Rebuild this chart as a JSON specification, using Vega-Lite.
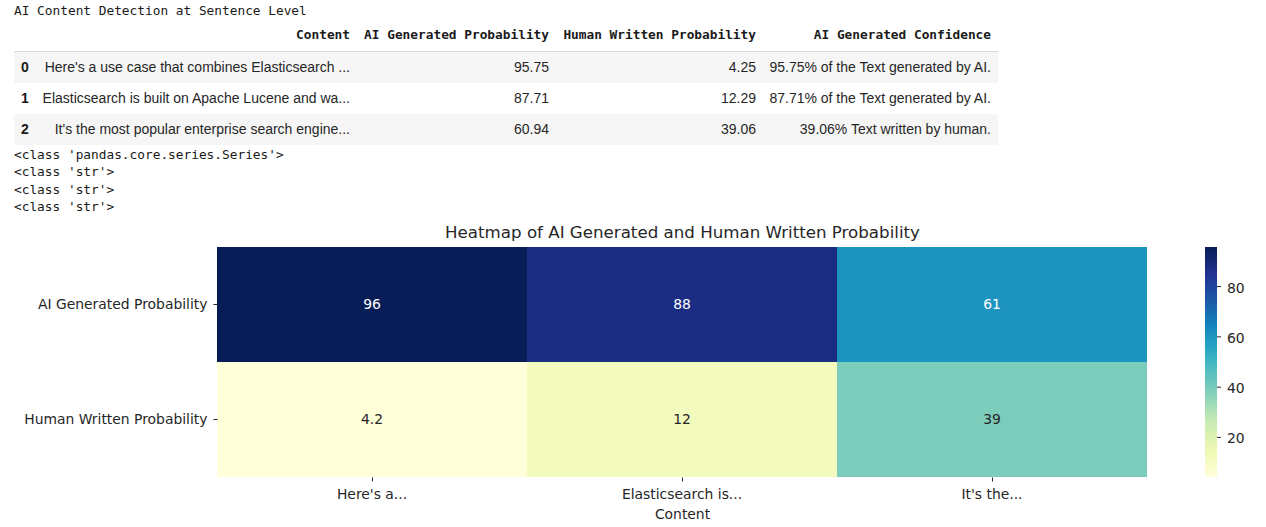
{
  "$schema": "https://vega.github.io/schema/vega-lite/v6.json",
  "width": 1266,
  "height": 527,
  "padding": 0,
  "autosize": "none",
  "background": "white",
  "title": {
    "text": "Heatmap of AI Generated and Human Written Probability",
    "anchor": "middle",
    "dx": 49.5,
    "offset": -242,
    "font": "DejaVu Sans",
    "fontSize": 16.67,
    "fontWeight": "normal",
    "color": "#262626"
  },
  "config": {"view": {"stroke": null}},
  "datasets": {
    "stripes": [
      {"row": "0", "from": 0, "to": 1},
      {"row": "2", "from": 0, "to": 1}
    ],
    "headerRule": [{"from": 0, "to": 1, "row": "header"}],
    "notes": [
      {"line": 0, "text": "AI Content Detection at Sentence Level"},
      {"line": 5, "text": "<class 'pandas.core.series.Series'>"},
      {"line": 6, "text": "<class 'str'>"},
      {"line": 7, "text": "<class 'str'>"},
      {"line": 8, "text": "<class 'str'>"}
    ],
    "header": [
      {"line": 1, "col": 1, "cell": "Content"},
      {"line": 1, "col": 2, "cell": "AI Generated Probability"},
      {"line": 1, "col": 3, "cell": "Human Written Probability"},
      {"line": 1, "col": 4, "cell": "AI Generated Confidence"}
    ],
    "index": [
      {"line": 2, "col": 0, "cell": "0"},
      {"line": 3, "col": 0, "cell": "1"},
      {"line": 4, "col": 0, "cell": "2"}
    ],
    "body": [
      {"line": 2, "col": 1, "cell": "Here's a use case that combines Elasticsearch ..."},
      {"line": 2, "col": 2, "cell": "95.75"},
      {"line": 2, "col": 3, "cell": "4.25"},
      {"line": 2, "col": 4, "cell": "95.75% of the Text generated by AI."},
      {"line": 3, "col": 1, "cell": "Elasticsearch is built on Apache Lucene and wa..."},
      {"line": 3, "col": 2, "cell": "87.71"},
      {"line": 3, "col": 3, "cell": "12.29"},
      {"line": 3, "col": 4, "cell": "87.71% of the Text generated by AI."},
      {"line": 4, "col": 1, "cell": "It's the most popular enterprise search engine..."},
      {"line": 4, "col": 2, "cell": "60.94"},
      {"line": 4, "col": 3, "cell": "39.06"},
      {"line": 4, "col": 4, "cell": "39.06% Text written by human."}
    ],
    "heat": [
      {"Content": "Here's a...", "metric": "AI Generated Probability", "value": 95.75, "label": "96"},
      {"Content": "Elasticsearch is...", "metric": "AI Generated Probability", "value": 87.71, "label": "88"},
      {"Content": "It's the...", "metric": "AI Generated Probability", "value": 60.94, "label": "61"},
      {"Content": "Here's a...", "metric": "Human Written Probability", "value": 4.25, "label": "4.2"},
      {"Content": "Elasticsearch is...", "metric": "Human Written Probability", "value": 12.29, "label": "12"},
      {"Content": "It's the...", "metric": "Human Written Probability", "value": 39.06, "label": "39"}
    ],
    "barTicks": [{"tick": 20}, {"tick": 40}, {"tick": 60}, {"tick": 80}]
  },
  "layer": [
    {
      "data": {"name": "stripes"},
      "mark": {"type": "rect", "color": "#f6f6f6"},
      "encoding": {
        "x": {"field": "from", "type": "quantitative", "axis": null, "scale": {"domain": [0, 1], "range": [14, 998]}},
        "x2": {"field": "to"},
        "y": {"field": "row", "type": "nominal", "axis": null, "scale": {"domain": ["0", "1", "2"], "range": [52, 145], "paddingInner": 0, "paddingOuter": 0}}
      }
    },
    {
      "data": {"name": "headerRule"},
      "mark": {"type": "rule", "color": "#d9d9d9", "strokeWidth": 1},
      "encoding": {
        "x": {"field": "from", "type": "quantitative", "axis": null, "scale": {"domain": [0, 1], "range": [14, 998]}},
        "x2": {"field": "to"},
        "y": {"field": "row", "type": "nominal", "axis": null, "scale": {"type": "point", "domain": ["header"], "range": [51.5, 51.5]}}
      }
    },
    {
      "data": {"name": "notes"},
      "mark": {"type": "text", "align": "left", "baseline": "middle", "font": "DejaVu Sans Mono", "fontSize": 12.8, "color": "#1a1a1a"},
      "encoding": {
        "x": {"datum": 0, "type": "quantitative", "axis": null, "scale": {"domain": [0, 1], "range": [14, 998]}},
        "y": {"field": "line", "type": "quantitative", "axis": null, "scale": {"domain": [0, 5, 6, 7, 8], "range": [10.5, 155, 172, 189.5, 207], "zero": false, "nice": false}},
        "text": {"field": "text"}
      }
    },
    {
      "encoding": {
        "x": {"field": "col", "type": "quantitative", "axis": null, "scale": {"domain": [0, 1, 2, 3, 4], "range": [25, 350, 549, 756, 991], "zero": false, "nice": false}},
        "y": {"field": "line", "type": "quantitative", "axis": null, "scale": {"domain": [1, 2, 3, 4], "range": [34.5, 68, 99, 130], "zero": false, "nice": false}},
        "text": {"field": "cell"}
      },
      "layer": [
        {
          "data": {"name": "header"},
          "mark": {"type": "text", "align": "right", "baseline": "middle", "font": "DejaVu Sans Mono", "fontSize": 12.8, "fontWeight": "bold", "color": "#1a1a1a"}
        },
        {
          "data": {"name": "index"},
          "mark": {"type": "text", "align": "center", "baseline": "middle", "font": "Liberation Sans", "fontSize": 14, "fontWeight": "bold", "color": "#1a1a1a"}
        },
        {
          "data": {"name": "body"},
          "mark": {"type": "text", "align": "right", "baseline": "middle", "font": "Liberation Sans", "fontSize": 14, "color": "#262626"}
        }
      ]
    },
    {
      "data": {"name": "heat"},
      "encoding": {
        "x": {
          "field": "Content",
          "type": "nominal",
          "title": "Content",
          "sort": null,
          "scale": {"domain": ["Here's a...", "Elasticsearch is...", "It's the..."], "range": [217, 1147], "paddingInner": 0, "paddingOuter": 0},
          "axis": {"orient": "bottom", "offset": -50, "labelAngle": 0, "domain": false, "tickSize": 4, "tickColor": "#262626", "labelPadding": 6, "labelFont": "DejaVu Sans", "labelFontSize": 13.9, "labelColor": "#262626", "titleFont": "DejaVu Sans", "titleFontSize": 13.9, "titleFontWeight": "normal", "titleColor": "#262626", "titlePadding": 7, "grid": false}
        },
        "y": {
          "field": "metric",
          "type": "nominal",
          "title": null,
          "sort": null,
          "scale": {"domain": ["AI Generated Probability", "Human Written Probability"], "range": [247, 477], "paddingInner": 0, "paddingOuter": 0},
          "axis": {"orient": "left", "offset": -217, "domain": false, "tickSize": 4, "tickColor": "#262626", "labelPadding": 6, "labelLimit": 300, "labelFont": "DejaVu Sans", "labelFontSize": 13.9, "labelColor": "#262626", "grid": false}
        }
      },
      "layer": [
        {
          "mark": {"type": "rect"},
          "encoding": {
            "color": {
              "field": "value",
              "type": "quantitative",
              "scale": {"domain": [4.25, 95.75], "range": ["#ffffd9", "#edf8b1", "#c7e9b4", "#7fcdbb", "#41b6c4", "#1d91c0", "#225ea8", "#253494", "#081d58"]},
              "legend": {"title": null, "orient": "none", "legendX": 1205, "legendY": 247, "direction": "vertical", "gradientLength": 230, "gradientThickness": 12, "gradientStrokeWidth": 0, "values": [20, 40, 60, 80], "labelOffset": 10, "labelFont": "DejaVu Sans", "labelFontSize": 13.9, "labelColor": "#262626", "encode": {"labels": {"update": {"dy": {"value": 2}}}}}
            }
          }
        },
        {
          "mark": {"type": "text", "baseline": "middle", "align": "center", "font": "DejaVu Sans", "fontSize": 13.9},
          "encoding": {
            "text": {"field": "label"},
            "color": {"condition": {"test": "datum.value > 50", "value": "#ffffff"}, "value": "#262626"}
          }
        }
      ]
    },
    {
      "data": {"name": "barTicks"},
      "mark": {"type": "rule", "color": "#262626", "strokeWidth": 1},
      "encoding": {
        "x": {"datum": 0, "type": "quantitative", "axis": null, "scale": {"domain": [0, 1], "range": [1217, 1221]}},
        "x2": {"datum": 1},
        "y": {"field": "tick", "type": "quantitative", "axis": null, "scale": {"domain": [4.25, 95.75], "range": [477, 247], "zero": false, "nice": false}}
      }
    }
  ],
  "resolve": {"scale": {"x": "independent", "y": "independent", "color": "independent"}}
}
